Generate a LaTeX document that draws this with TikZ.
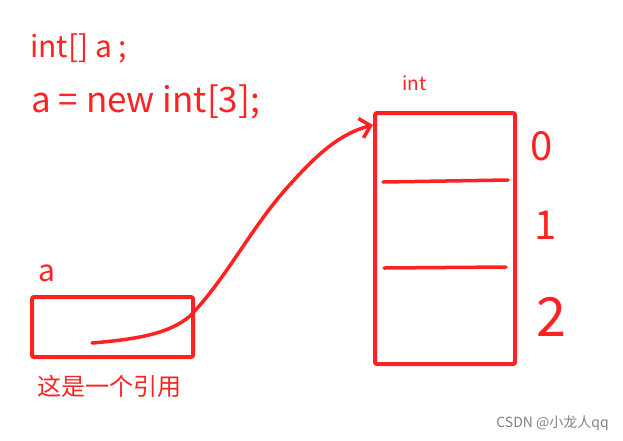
\documentclass[tikz,border=0pt]{standalone}
\usepackage{fontspec}
\setmainfont{Noto Sans CJK SC}
\usetikzlibrary{arrows.meta,positioning}
\definecolor{penred}{RGB}{255,34,34}
\definecolor{markgray}{RGB}{130,130,130}

\begin{document}
\begin{tikzpicture}[x=1pt,y=-1pt,
                code/.style={text=penred,font=\fontsize{30}{30}\selectfont,anchor=base west,inner sep=0pt},
                small/.style={text=penred,font=\fontsize{19}{19}\selectfont,anchor=base west,inner sep=0pt},
                idx/.style={text=penred,font=\fontsize{40}{40}\selectfont,inner sep=0pt},
                cellbox/.style={draw=penred,line width=4pt,rounded corners=2pt,inner sep=0pt},
                sepline/.style={draw=penred,line width=3.5pt,line cap=round},
                refline/.style={draw=penred,line width=3.5pt,line cap=round,
                                -{Straight Barb[length=10pt,width=20pt,line width=3.5pt]}}]
    \useasboundingbox (0,0) rectangle (623,440);
    % the two lines of code
    \node[code] (decl) at (30,57)  {int[] a ;};
    \node[code,font=\fontsize{35}{35}\selectfont] (newa) at (31,112) {a = new int[3];};
    % the array object
    \node[cellbox,minimum width=140pt,minimum height=251pt] (arr) at (445,238.5) {};
    \node[small] (tname) at (402,90) {int};
    \coordinate (s1l) at (383,182);
    \coordinate (s1r) at (508,180);
    \coordinate (s2l) at (384,268);
    \coordinate (s2r) at (506,267);
    \draw[sepline] (s1l) -- (s1r);
    \draw[sepline] (s2l) -- (s2r);
    \node[idx] (i0) at (542,146) {0};
    \node[idx] (i1) at (546,225) {1};
    \node[idx,font=\fontsize{54}{54}\selectfont] (i2) at (551,317) {2};
    % the reference variable
    \node[cellbox,minimum width=161pt,minimum height=60pt] (va) at (112.5,327) {};
    \node[code] (vname) at (38,281) {a};
    \node[text=penred,font=\fontsize{24}{24}\selectfont,anchor=base west,inner sep=0pt]
        (note) at (37,395) {这是一个引用};
    % the reference points to the array
    \coordinate (refstart) at (92,343);
    \coordinate (bend1) at (190,316);
    \coordinate (bend2) at (285,190);
    \draw[refline] (refstart) .. controls (140,339) and (170,333) .. (bend1)
                   .. controls (225,280) and (250,230) .. (bend2)
                   .. controls (310,162) and (335,135) .. ([yshift=-14pt]arr.north west);
    \node[text=markgray,font=\fontsize{14}{14}\selectfont,anchor=base east,inner sep=0pt]
        (mark) at (609,427) {CSDN @小龙人qq};
\end{tikzpicture}
\end{document}
